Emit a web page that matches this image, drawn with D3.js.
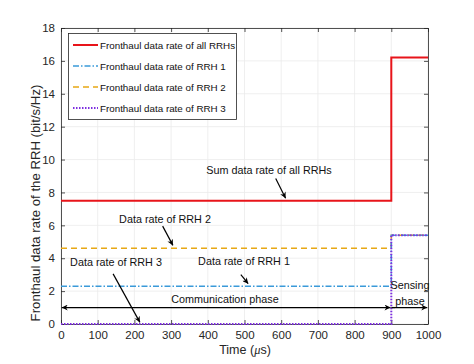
<!DOCTYPE html>
<html><head><meta charset="utf-8">
<script src="https://cdn.jsdelivr.net/npm/d3@7"></script>
<style>
body{margin:0;background:#fff;}
text{font-family:"Liberation Sans",Arial,sans-serif;}
</style></head>
<body><svg id="c" width="474" height="364"></svg>
<script>
// Data
const phases = [0, 900, 1000];               // phase boundaries (µs)
const seriesNames = ["Fronthaul data rate of all RRHs","Fronthaul data rate of RRH 1","Fronthaul data rate of RRH 2","Fronthaul data rate of RRH 3"];
const sumRate  = [7.5, 16.2];
const rrh1Rate = [2.3, 5.4];
const rrh2Rate = [4.6, 5.4];
const rrh3Rate = [0, 5.4];
const xTicks = [0,100,200,300,400,500,600,700,800,900,1000];
const yTicks = [0,2,4,6,8,10,12,14,16,18];

const svg = d3.select("#c");
const L=61, R=428, T=28, B=324;
const x = d3.scaleLinear().domain([0,1000]).range([L,R]);
const y = d3.scaleLinear().domain([0,18]).range([B,T]);

// grid
const g = svg.append("g");
g.selectAll(".gx").data(xTicks).enter().append("line")
 .attr("x1",d=>x(d)).attr("x2",d=>x(d)).attr("y1",T).attr("y2",B)
 .attr("stroke","#ebebeb").attr("stroke-width",0.8);
g.selectAll(".gy").data(yTicks).enter().append("line")
 .attr("x1",L).attr("x2",R).attr("y1",d=>y(d)).attr("y2",d=>y(d))
 .attr("stroke","#ebebeb").attr("stroke-width",0.8);

// axes
const fmt = d3.format("d");
const ax = svg.append("g").attr("transform",`translate(0,${B})`)
 .call(d3.axisBottom(x).tickValues(xTicks).tickFormat(fmt).tickSizeInner(-4).tickSizeOuter(0).tickPadding(7));
const ay = svg.append("g").attr("transform",`translate(${L},0)`)
 .call(d3.axisLeft(y).tickValues(yTicks).tickFormat(fmt).tickSizeInner(-4).tickSizeOuter(0).tickPadding(6));
const axTop = svg.append("g").attr("transform",`translate(0,${T})`)
 .call(d3.axisTop(x).tickValues(xTicks).tickSizeInner(-4).tickSizeOuter(0).tickFormat(""));
const ayR = svg.append("g").attr("transform",`translate(${R},0)`)
 .call(d3.axisRight(y).tickValues(yTicks).tickSizeInner(-4).tickSizeOuter(0).tickFormat(""));
[ax,ay,axTop,ayR].forEach(a=>{
  a.selectAll("path").attr("stroke","#262626").attr("stroke-width",0.8);
  a.selectAll("line").attr("stroke","#262626").attr("stroke-width",0.8);
  a.selectAll("text").attr("fill","#262626").style("font-size","11.5px").style("font-family","Liberation Sans, Arial, sans-serif");
});

// step series
function steps(vals){
  const pts=[];
  vals.forEach((v,i)=>{pts.push([phases[i],v]);pts.push([phases[i+1],v]);});
  return pts;
}
const line = d3.line().x(d=>x(d[0])).y(d=>y(d[1]));
const series = [
  {vals:sumRate, color:"#e8141a", w:2, dash:null},
  {vals:rrh1Rate, color:"#3a9ad9", w:1.5, dash:"6,2,1.5,2"},
  {vals:rrh2Rate, color:"#e8a815", w:1.5, dash:"6,4"},
  {vals:rrh3Rate, color:"#7d2ee0", w:2, dash:"1.5,1.5"},
];
[series[2],series[1],series[0],series[3]].forEach(s=>{
  svg.append("path").attr("d",line(steps(s.vals))).attr("fill","none")
   .attr("stroke",s.color).attr("stroke-width",s.w).attr("stroke-dasharray",s.dash);
});

// arrow markers
const defs = svg.append("defs");
defs.append("marker").attr("id","ah").attr("viewBox","0 0 10 10").attr("refX",10).attr("refY",5)
 .attr("markerWidth",7).attr("markerHeight",6).attr("markerUnits","userSpaceOnUse").attr("orient","auto-start-reverse")
 .append("path").attr("d","M0,0 L10,5 L0,10 L3,5 Z").attr("fill","#000");

function arrow(x1,y1,x2,y2,both){
  const l=svg.append("line").attr("x1",x1).attr("y1",y1).attr("x2",x2).attr("y2",y2)
   .attr("stroke","#000").attr("stroke-width",1.2).attr("marker-end","url(#ah)");
  if(both) l.attr("marker-start","url(#ah)");
}
function label(t,xx,yy,anchor){
  svg.append("text").attr("x",xx).attr("y",yy).attr("text-anchor",anchor||"middle")
   .style("font-size","10.8px").attr("fill","#111").text(t);
}
label("Sum data rate of all RRHs",269,174);
arrow(x(585),y(8.85),x(612),y(7.65));
label("Data rate of RRH 2",165,223);
arrow(x(277),y(5.95),x(305),y(4.78));
label("Data rate of RRH 3",116,266);
arrow(x(142),y(3.05),x(215),y(0.1));
label("Data rate of RRH 1",244,265);
arrow(x(490),y(3.0),x(510),y(2.45));
label("Communication phase",225,303);
arrow(x(2),y(1),x(898),y(1),true);
label("Sensing",410,289);
label("phase",410,305);
arrow(x(902),y(1),x(998),y(1),false);
svg.append("line").attr("x1",x(900)).attr("y1",y(1)).attr("x2",x(910)).attr("y2",y(1)).attr("stroke","#000").attr("stroke-width",1.2);

// legend
const lg = svg.append("g");
lg.append("rect").attr("x",68.5).attr("y",33.5).attr("width",168).attr("height",86)
 .attr("fill","#fff").attr("stroke","#262626").attr("stroke-width",0.8);
const legY=[45,66,87,108];
series.forEach((s,i)=>{
  lg.append("line").attr("x1",73).attr("x2",98).attr("y1",legY[i]).attr("y2",legY[i])
   .attr("stroke",s.color).attr("stroke-width",s.w).attr("stroke-dasharray",s.dash);
  lg.append("text").attr("x",100).attr("y",legY[i]+4).style("font-size","9.8px").attr("fill","#111").text(seriesNames[i]);
});

// axis titles
const xt = svg.append("text").attr("x",245).attr("y",354).attr("text-anchor","middle").style("font-size","12.5px").attr("fill","#262626");
xt.append("tspan").text("Time (");
xt.append("tspan").style("font-style","italic").style("font-family","Liberation Serif, serif").text("μ");
xt.append("tspan").text("s)");
svg.append("text").attr("transform","translate(40,203) rotate(-90)").attr("text-anchor","middle")
 .style("font-size","13.2px").attr("fill","#262626").text("Fronthaul data rate of the RRH (bit/s/Hz)");
</script></body></html>
